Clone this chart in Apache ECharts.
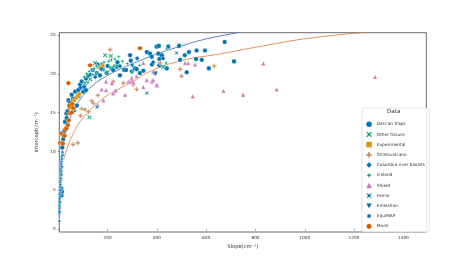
<!DOCTYPE html>
<html><head><meta charset="utf-8">
<script src="https://cdn.jsdelivr.net/npm/echarts@6/dist/echarts.min.js"></script>
<style>html,body{margin:0;padding:0;background:#fff}#c{width:474px;height:266px}</style>
</head><body><div id="c"></div>
<script>
const xTicks = [200, 400, 600, 800, 1000, 1200, 1400];
const yTicks = [0, 5, 10, 15, 20, 25];
const groupNames = ['Deccan Traps','Other fissure','Experimental','Stratovolcano','Columbia river basalts','Iceland','Shield','Ferrar','Emeishan','EquiMAP','Moon'];

const deccan = [[13,4.3],[15,4.8],[12,5.2],[16,10.5],[20,11.6],[24,12.6],[27,13.8],[30,12.9],[34,14.3],[33,14.9],[38,15.2],[41,16.6],[47,16.3],[54,17.3],[60,16.8],[64,15.3],[75,15.9],[68,17.7],[81,17.1],[81,17.9],[88,18.6],[95,19.0],[101,17.7],[105,18.3],[112,17.9],[112,19.4],[122,19.8],[140,20.5],[156,20.1],[160,21.2],[169,19.8],[180,20.6],[196,20.1],[200,21.0],[217,20.7],[223,20.5],[237,20.9],[240,21.5],[250,19.8],[267,20.5],[275,20.5],[291,22.4],[294,21.7],[298,20.3],[311,20.7],[318,20.6],[331,20.1],[345,20.4],[359,22.8],[372,22.6],[379,22.2],[380,21.2],[392,20.1],[399,23.5],[406,22.6],[408,23.6],[410,21.9],[410,21.1],[420,22.4],[440,20.7],[446,23.5],[490,23.6],[494,21.8],[513,22.4],[521,20.2],[530,22.8],[559,21.9],[561,23.0],[582,21.8],[595,23.0],[611,20.7],[675,24.1],[713,21.6]];
const otherFissure = [[190,22.4],[213,22.3],[126,14.4],[149,21.4],[108,18.8],[129,19.3],[165,20.9],[235,21.0],[426,20.9],[200,20.2]];
const experimental = [[45,15.6],[50,16.0],[58,16.4],[62,15.5],[65,16.6],[72,16.9],[78,17.2],[85,17.4],[170,20.8],[180,21.1]];
const stratovolcano = [[60,10.9],[79,11.1],[95,15.5],[108,15.4],[122,15.1],[142,16.2],[136,16.5],[210,23.1],[223,19.0],[264,18.8],[304,18.6],[318,18.0],[413,21.4],[494,20.6],[500,19.7],[633,21.0],[90,14.6],[160,17.2]];
const columbia = [[90,18.2],[130,19.9],[175,20.6],[250,21.0],[320,22.0],[385,21.5],[425,22.0],[150,19.6]];
const iceland = [[105,19.6],[115,20.0],[125,20.3],[135,20.5],[145,20.7],[155,21.0],[175,21.3],[185,21.5],[205,21.6],[215,21.8],[230,21.9],[245,22.2],[260,21.6],[280,21.3],[140,19.9],[160,20.1],[185,20.5],[210,20.8],[225,21.0],[300,20.2],[330,21.1],[437,21.4],[440,23.2],[120,18.9]];
const shield = [[176,18.0],[183,16.6],[194,19.0],[194,17.9],[230,17.8],[233,17.9],[271,17.3],[284,19.0],[291,19.0],[298,19.5],[300,19.2],[304,18.9],[318,19.7],[345,21.4],[345,18.3],[359,19.2],[379,19.0],[385,20.3],[385,19.2],[402,18.5],[399,18.6],[514,21.4],[527,21.4],[555,21.2],[545,17.1],[670,17.8],[750,17.3],[832,21.35],[886,18.0],[1285,19.6],[217,18.8],[223,17.5],[160,16.0]];
const ferrar = [[359,17.5],[480,22.7],[157,15.7]];
const emeishan = [[395,20.0],[300,21.0]];
const equimap = [[2,0.9],[3,1.3],[3,1.7],[4,2.0],[4,2.4],[5,2.7],[5,3.0],[6,3.3],[5,3.6],[6,3.9],[7,4.2],[6,4.5],[8,4.8],[7,5.1],[8,5.4],[9,5.7],[8,6.0],[10,6.3],[9,6.6],[11,6.9],[10,7.2],[12,7.5],[11,7.8],[13,8.1],[12,8.4],[14,8.7],[15,9.0],[14,9.3],[16,9.6],[17,9.9],[4,1.0],[6,2.2],[7,3.5],[9,5.0],[11,6.5],[13,7.0],[15,8.0],[18,9.5]];
const moon = [[7,11.1],[12,12.3],[14,11.1],[18,11.0],[20,12.1],[25,12.0],[28,12.8],[33,13.0],[38,13.4],[42,14.0],[47,14.9],[54,15.0],[45,15.9],[56,16.1],[60,15.6],[41,18.8],[129,21.1],[331,23.3]];

const fitBlue = [[3,3.0],[6,6.0],[10,8.5],[20,10.8],[34,12.9],[54,14.8],[80,16.3],[101,17.2],[140,18.5],[169,19.2],[237,20.4],[331,21.7],[413,22.7],[500,23.6],[575,24.3],[660,24.9],[737,25.35]];
const fitOrange = [[24,9.1],[40,10.8],[61,12.3],[90,13.9],[129,15.3],[180,16.8],[237,17.9],[291,18.8],[372,20.3],[500,21.7],[643,22.5],[832,23.6],[1021,24.6],[1251,25.35]];

const BLUE='#0173B2', GREEN='#029E73', ORANGE='#DE8F05', TAN='#CA9161', PINK='#CC78BC', VERM='#D55E00';
const SYM = {
  X: 'path://M-2,-3 L0,-1 L2,-3 L3,-2 L1,0 L3,2 L2,3 L0,1 L-2,3 L-3,2 L-1,0 L-3,-2 Z',
  P: 'path://M-1,-3 L1,-3 L1,-1 L3,-1 L3,1 L1,1 L1,3 L-1,3 L-1,1 L-3,1 L-3,-1 L-1,-1 Z',
  star4: 'path://M0,-3 L0.8,-0.8 L3,0 L0.8,0.8 L0,3 L-0.8,0.8 L-3,0 L-0.8,-0.8 Z',
  star4r: 'path://M-2.2,-2.2 L0,-0.9 L2.2,-2.2 L0.9,0 L2.2,2.2 L0,0.9 L-2.2,2.2 L-0.9,0 Z',
  star6: 'path://M0,-3 L0.75,-1.3 L2.6,-1.5 L1.5,0 L2.6,1.5 L0.75,1.3 L0,3 L-0.75,1.3 L-2.6,1.5 L-1.5,0 L-2.6,-1.5 L-0.75,-1.3 Z',
  hex: 'path://M0,-3 L2.6,-1.5 L2.6,1.5 L0,3 L-2.6,1.5 L-2.6,-1.5 Z',
  vtri: 'path://M-3,-2.6 L3,-2.6 L0,2.6 Z'
};
const groups = [
  {data: deccan, color: BLUE, symbol: 'circle', size: 4.6},
  {data: otherFissure, color: GREEN, symbol: SYM.X, size: 4.6},
  {data: experimental, color: ORANGE, symbol: 'rect', size: 3.8},
  {data: stratovolcano, color: TAN, symbol: SYM.P, size: 4.6},
  {data: columbia, color: BLUE, symbol: 'diamond', size: 4.8},
  {data: iceland, color: GREEN, symbol: SYM.star4, size: 4.6},
  {data: shield, color: PINK, symbol: 'triangle', size: 4.4},
  {data: ferrar, color: BLUE, symbol: SYM.star4r, size: 4.4},
  {data: emeishan, color: BLUE, symbol: SYM.vtri, size: 4.4},
  {data: equimap, color: BLUE, symbol: SYM.star6, size: 3.6},
  {data: moon, color: VERM, symbol: SYM.hex, size: 4.6}
];

const series = [
  {type:'line', data: fitBlue, smooth: true, showSymbol:false, symbol:'none', lineStyle:{color:'#4c72b0', width:0.9}, z:1, silent:true},
  {type:'line', data: fitOrange, smooth: true, showSymbol:false, symbol:'none', lineStyle:{color:'#dd8452', width:0.9}, z:1, silent:true}
];
groups.forEach((g,i)=>{
  series.push({type:'scatter', name: groupNames[i], data: g.data, symbol: g.symbol, symbolSize: g.size,
    itemStyle:{color:g.color, borderColor:'#fff', borderWidth:0.3, opacity:1}, z:2});
});
const legendData = groupNames.map((n,i)=>({name:n, icon:groups[i].symbol,
  itemStyle:{color:groups[i].color, borderWidth:0}}));

const chart = echarts.init(document.getElementById('c'), null, {renderer:'canvas'});
const FONT = 'DejaVu Sans';
chart.setOption({
  animation:false,
  backgroundColor:'#fff',
  grid:{left:59.3, right:47.7, top:32.7, bottom:34, containLabel:false, show:true, borderColor:'#444', borderWidth:0.8, backgroundColor:'transparent'},
  xAxis:{type:'value', min:4, max:1493, name:'Slope(cm⁻¹)', nameLocation:'middle', nameGap:9.5,
    nameTextStyle:{fontFamily:FONT, fontSize:5.2, color:'#333'},
    axisLine:{show:false}, splitLine:{show:false},
    axisTick:{show:true, customValues:xTicks, length:1.6, lineStyle:{color:'#444', width:0.6}},
    axisLabel:{customValues:xTicks, formatter:v=>String(v), fontFamily:FONT, fontSize:4.3, color:'#333', margin:3.5}},
  yAxis:{type:'value', min:-0.39, max:25.3, name:'Intercept(cm⁻¹)', nameLocation:'middle', nameGap:12, nameRotate:90,
    nameTextStyle:{fontFamily:FONT, fontSize:5.2, color:'#333'},
    axisLine:{show:false}, splitLine:{show:false},
    axisTick:{show:true, customValues:yTicks, length:1.6, lineStyle:{color:'#444', width:0.6}},
    axisLabel:{customValues:yTicks, formatter:v=>String(v), fontFamily:FONT, fontSize:4.3, color:'#333', margin:3.5}},
  legend:{show:true, data:legendData, orient:'vertical', left:362, top:108, itemWidth:5.5, itemHeight:5.5, itemGap:4.7,
    padding:[13.5,4,3,4.3], borderColor:'#d8d8d8', borderWidth:0.7, borderRadius:2, backgroundColor:'rgba(255,255,255,0.85)',
    textStyle:{fontFamily:FONT, fontSize:4.3, lineHeight:5.5, color:'#333'}, selectedMode:false},
  graphic:[{type:'text', left:387, top:109, z:100, style:{text:'Data', fontFamily:FONT, fontSize:5.6, fill:'#333'}}],
  series: series
});
</script></body></html>
